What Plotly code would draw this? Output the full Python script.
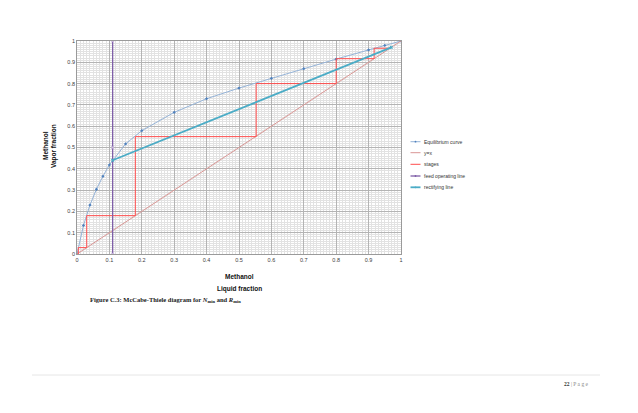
import plotly.graph_objects as go

# Equilibrium data (methanol-water)
eq_x = [0, 0.02, 0.04, 0.06, 0.08, 0.10, 0.15, 0.20, 0.30, 0.40, 0.50, 0.60, 0.70, 0.80, 0.90, 0.95, 1.0]
eq_y = [0, 0.134, 0.230, 0.304, 0.365, 0.418, 0.517, 0.579, 0.665, 0.729, 0.779, 0.825, 0.870, 0.915, 0.958, 0.979, 1.0]

diag_x = [0, 1]
diag_y = [0, 1]

stage_x = [0.966, 0.917, 0.917, 0.80, 0.80, 0.553, 0.553, 0.18, 0.18, 0.03, 0.03, 0.004, 0.004]
stage_y = [0.966, 0.966, 0.917, 0.917, 0.80, 0.80, 0.551, 0.551, 0.18, 0.18, 0.03, 0.03, 0.0]

feed_x = [0.11, 0.11, 0.11]
feed_y = [0.0, 0.5, 1.0]

rect_x = [0.11, 0.97]
rect_y = [0.44, 0.97]

xtick_vals = [0, 0.1, 0.2, 0.3, 0.4, 0.5, 0.6, 0.7, 0.8, 0.9, 1]
xtick_text = ["0", "0.1", "0.2", "0.3", "0.4", "0.5", "0.6", "0.7", "0.8", "0.9", "1"]

legend_names = ["Equilibrium curve", "y=x", "stages", "feed operating line", "rectifying line"]

W, H = 638, 413
OFF = 8  # default page body margin
L, R, T, B = 77, 401, 41, 254

COL_EQ_LINE = "#95B3D7"
COL_EQ_MARK = "#4F81BD"
COL_DIAG = "#D99694"
COL_STAGE = "#FF4D4D"
COL_FEED = "#7F5FA8"
COL_RECT = "#4BACC6"


def px(x):
    return (x - L) / (R - L)


def py(y):
    return (B - y) / (B - T)


fig = go.Figure()
fig.add_trace(go.Scatter(x=eq_x, y=eq_y, mode="lines+markers", name=legend_names[0],
                         line=dict(color=COL_EQ_LINE, width=1),
                         marker=dict(color=COL_EQ_MARK, size=2.5, symbol="diamond")))
fig.add_trace(go.Scatter(x=diag_x, y=diag_y, mode="lines", name=legend_names[1],
                         line=dict(color=COL_DIAG, width=1)))
fig.add_trace(go.Scatter(x=stage_x, y=stage_y, mode="lines", name=legend_names[2],
                         line=dict(color=COL_STAGE, width=1)))
fig.add_trace(go.Scatter(x=feed_x, y=feed_y, mode="lines+markers", name=legend_names[3],
                         line=dict(color=COL_FEED, width=1.3),
                         marker=dict(color="#C9B8DD", size=3, symbol="x")))
fig.add_trace(go.Scatter(x=rect_x, y=rect_y, mode="lines+markers", name=legend_names[4],
                         line=dict(color=COL_RECT, width=1.8),
                         marker=dict(color=COL_RECT, size=3, symbol="x")))

tickfont = dict(family="Liberation Sans, Arial", size=5.5, color="#404040")
grid_minor = dict(dtick=0.01, showgrid=True, gridcolor="#E2E2E2", gridwidth=0.6)

for upd in (fig.update_xaxes, fig.update_yaxes):
    upd(range=[0, 1], tickvals=xtick_vals, ticktext=xtick_text, tickfont=tickfont,
        showgrid=True, gridcolor="#B4B4B4", gridwidth=0.6, zeroline=False,
        showline=True, linecolor="#9A9A9A", linewidth=0.8, mirror=True,
        ticks="", ticklen=0, minor=grid_minor)

title_font = dict(family="Liberation Sans, Arial", size=6.5, color="#111111")


def ann(text, x, y, **kw):
    d = dict(text=text, x=px(x), y=py(y), xref="paper", yref="paper", showarrow=False,
             xanchor="center", yanchor="middle")
    d.update(kw)
    return d


annotations = [
    ann("<b>Methanol</b>", 45, 146, textangle=-90, font=title_font),
    ann("<b>Vapor fraction</b>", 54, 146, textangle=-90, font=title_font),
    ann("<b>Methanol</b>", 239, 276, font=title_font),
    ann("<b>Liquid fraction</b>", 239, 289, font=title_font),
    ann("<b>Figure C.3: McCabe-Thiele diagram for <i>N</i><sub>min</sub> and <i>R</i><sub>min</sub></b>",
        88, 300, xanchor="left",
        font=dict(family="Liberation Serif, Times New Roman", size=6.5, color="#222222")),
    ann("<b>22</b> <span style='color:#888888'>| P a g e</span>", 591, 384, xanchor="right",
        font=dict(family="Liberation Serif, Times New Roman", size=5.5, color="#333333")),
]

shapes = [
    dict(type="line", xref="paper", yref="paper", x0=px(32), x1=px(600), y0=py(375), y1=py(375),
         line=dict(color="#E6E6E6", width=1)),
]

# Manual compact legend (Excel-style)
legend_rows = [141.7, 152.7, 164.3, 176.0, 187.3]
legend_cols = [COL_EQ_LINE, COL_DIAG, COL_STAGE, COL_FEED, COL_RECT]
legend_marks = [COL_EQ_MARK, None, None, COL_FEED, COL_RECT]
legend_widths = [1, 1, 1, 1.3, 1.8]
for name, yy, col, mcol, lw in zip(legend_names, legend_rows, legend_cols, legend_marks, legend_widths):
    shapes.append(dict(type="line", xref="paper", yref="paper", x0=px(410.5), x1=px(420.5),
                       y0=py(yy), y1=py(yy), line=dict(color=col, width=lw)))
    if mcol:
        shapes.append(dict(type="circle", xref="paper", yref="paper", x0=px(414.6), x1=px(416.4),
                           y0=py(yy - 0.9), y1=py(yy + 0.9), fillcolor=mcol, line=dict(width=0)))
    annotations.append(ann(name, 421.5, yy, xanchor="left",
                           font=dict(family="Liberation Sans, Arial", size=5, color="#333333")))

fig.update_layout(
    width=W - OFF, height=H - OFF,
    margin=dict(l=L - OFF, r=W - R, t=T - OFF, b=H - B, pad=0),
    paper_bgcolor="white", plot_bgcolor="white",
    showlegend=False,
    annotations=annotations, shapes=shapes,
)

fig.write_html("out.html")
